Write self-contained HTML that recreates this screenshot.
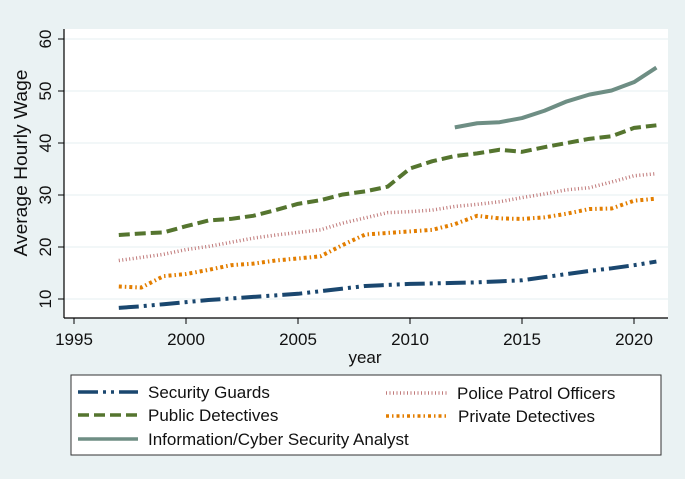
<!DOCTYPE html>
<html><head><meta charset="utf-8"><style>
body{margin:0;background:#eaf2f3;}
svg{display:block;font-family:"Liberation Sans",sans-serif;}
</style></head><body>
<svg width="685" height="479" viewBox="0 0 685 479" xmlns="http://www.w3.org/2000/svg">
<rect x="0" y="0" width="685" height="479" fill="#eaf2f3"/>
<rect x="64" y="29" width="604" height="289" fill="#ffffff"/>
<g id="grid"></g>
<g id="series"></g>
<line x1="64" y1="29" x2="64" y2="318" stroke="#000" stroke-width="1.2"/>
<line x1="64" y1="318" x2="668" y2="318" stroke="#000" stroke-width="1.2"/>
<g id="ticks"></g>
<text transform="translate(27,163) rotate(-90)" text-anchor="middle" font-size="18" textLength="187" lengthAdjust="spacingAndGlyphs" fill="#111">Average Hourly Wage</text>
<text x="365" y="363" text-anchor="middle" font-size="17" fill="#111">year</text>
<g>
<rect x="71" y="375" width="590" height="80" fill="#fff" stroke="#333" stroke-width="1"/>
<line x1="78" y1="392" x2="138" y2="392" stroke="#1a476f" stroke-width="3.5" stroke-dasharray="20,5,3,5,3,5"/>
<text x="148" y="398" font-size="17" fill="#111">Security Guards</text>
<line x1="78" y1="415" x2="138" y2="415" stroke="#55752f" stroke-width="3.5" stroke-dasharray="11,5"/>
<text x="148" y="421" font-size="17" fill="#111">Public Detectives</text>
<line x1="78" y1="439" x2="138" y2="439" stroke="#6e8e84" stroke-width="3.5"/>
<text x="148" y="445" font-size="17" fill="#111">Information/Cyber Security Analyst</text>
<line x1="386" y1="393" x2="447" y2="393" stroke="#c07a7a" stroke-width="3.5" stroke-dasharray="1,2.5"/>
<text x="457" y="399" font-size="17" fill="#111">Police Patrol Officers</text>
<line x1="386" y1="416" x2="447" y2="416" stroke="#e37e00" stroke-width="3.5" stroke-dasharray="3,3,1.5,3"/>
<text x="458" y="422" font-size="17" fill="#111">Private Detectives</text>
</g>
</svg>
<script>
const years = [1997,1998,1999,2000,2001,2002,2003,2004,2005,2006,2007,2008,2009,2010,2011,2012,2013,2014,2015,2016,2017,2018,2019,2020,2021];
const securityGuards = [8.3,8.6,9.0,9.4,9.8,10.1,10.4,10.7,11.0,11.5,12.0,12.5,12.7,12.9,13.0,13.1,13.2,13.4,13.6,14.2,14.8,15.4,15.9,16.5,17.2];
const publicDetectives = [22.3,22.6,22.8,24.0,25.1,25.4,26.0,27.1,28.3,29.0,30.1,30.7,31.6,35.1,36.5,37.5,38.0,38.7,38.3,39.2,40.0,40.8,41.3,42.9,43.4];
const policePatrol = [17.4,18.0,18.6,19.5,20.1,20.9,21.7,22.3,22.8,23.3,24.6,25.6,26.6,26.8,27.1,27.8,28.2,28.7,29.5,30.2,31.0,31.4,32.5,33.7,34.1];
const privateDetectives = [12.4,12.2,14.4,14.8,15.6,16.5,16.8,17.4,17.8,18.2,20.4,22.4,22.7,23.0,23.3,24.4,26.0,25.5,25.4,25.7,26.4,27.3,27.4,28.9,29.3];
const cyberYears = [2012,2013,2014,2015,2016,2017,2018,2019,2020,2021];
const cyberAnalyst = [43.0,43.8,44.0,44.8,46.2,48.0,49.3,50.1,51.7,54.5];
const xTicks = [1995,2000,2005,2010,2015,2020];
const yTicks = [10,20,30,40,50,60];

const NS = "http://www.w3.org/2000/svg";
const xs = v => 74 + (v - 1995) * 22.4;
const ys = v => 299 - (v - 10) * 5.2;

const grid = document.getElementById('grid');
const ticks = document.getElementById('ticks');
yTicks.forEach(t => {
  const g = document.createElementNS(NS, 'line');
  
  
  g.setAttribute('x1', 64); g.setAttribute('x2', 668);
  g.setAttribute('y1', ys(t)); g.setAttribute('y2', ys(t));
  g.setAttribute('stroke', '#eaf2f3'); g.setAttribute('stroke-width', '1.2');
  grid.appendChild(g);
  const tk = document.createElementNS(NS, 'line');
  
  
  tk.setAttribute('x1', 58); tk.setAttribute('x2', 64);
  tk.setAttribute('y1', ys(t)); tk.setAttribute('y2', ys(t));
  tk.setAttribute('stroke', '#000');
  ticks.appendChild(tk);
  const tx = document.createElementNS(NS, 'text');
  
  
  tx.setAttribute('transform', `translate(51,${ys(t)}) rotate(-90)`);
  tx.setAttribute('text-anchor', 'middle');
  tx.setAttribute('font-size', '17');
  tx.setAttribute('fill', '#111');
  tx.textContent = t;
  ticks.appendChild(tx);
});
xTicks.forEach(t => {
  const tk = document.createElementNS(NS, 'line');
  
  
  tk.setAttribute('x1', xs(t)); tk.setAttribute('x2', xs(t));
  tk.setAttribute('y1', 318); tk.setAttribute('y2', 324);
  tk.setAttribute('stroke', '#000');
  ticks.appendChild(tk);
  const tx = document.createElementNS(NS, 'text');
  
  
  tx.setAttribute('x', xs(t)); tx.setAttribute('y', 345);
  tx.setAttribute('text-anchor', 'middle');
  tx.setAttribute('font-size', '17');
  tx.setAttribute('fill', '#111');
  tx.textContent = t;
  ticks.appendChild(tx);
});

const series = document.getElementById('series');
function drawLine(name, xv, yv, color, dash, width) {
  const p = document.createElementNS(NS, 'polyline');
  
  
  p.setAttribute('points', xv.map((x, i) => xs(x) + ',' + ys(yv[i])).join(' '));
  p.setAttribute('fill', 'none');
  p.setAttribute('stroke', color);
  p.setAttribute('stroke-width', width);
  p.setAttribute('stroke-linejoin', 'round');
  if (dash) p.setAttribute('stroke-dasharray', dash);
  series.appendChild(p);
}
drawLine('line-police-patrol', years, policePatrol, '#c07a7a', '1,2.5', 3.5);
drawLine('line-private-detectives', years, privateDetectives, '#e37e00', '3,3,1.5,3', 4);
drawLine('line-security-guards', years, securityGuards, '#1a476f', '20,5,3,5,3,5', 4);
drawLine('line-public-detectives', years, publicDetectives, '#55752f', '11,5', 4);
drawLine('line-cyber-analyst', cyberYears, cyberAnalyst, '#6e8e84', null, 4);
</script>
</body></html>
